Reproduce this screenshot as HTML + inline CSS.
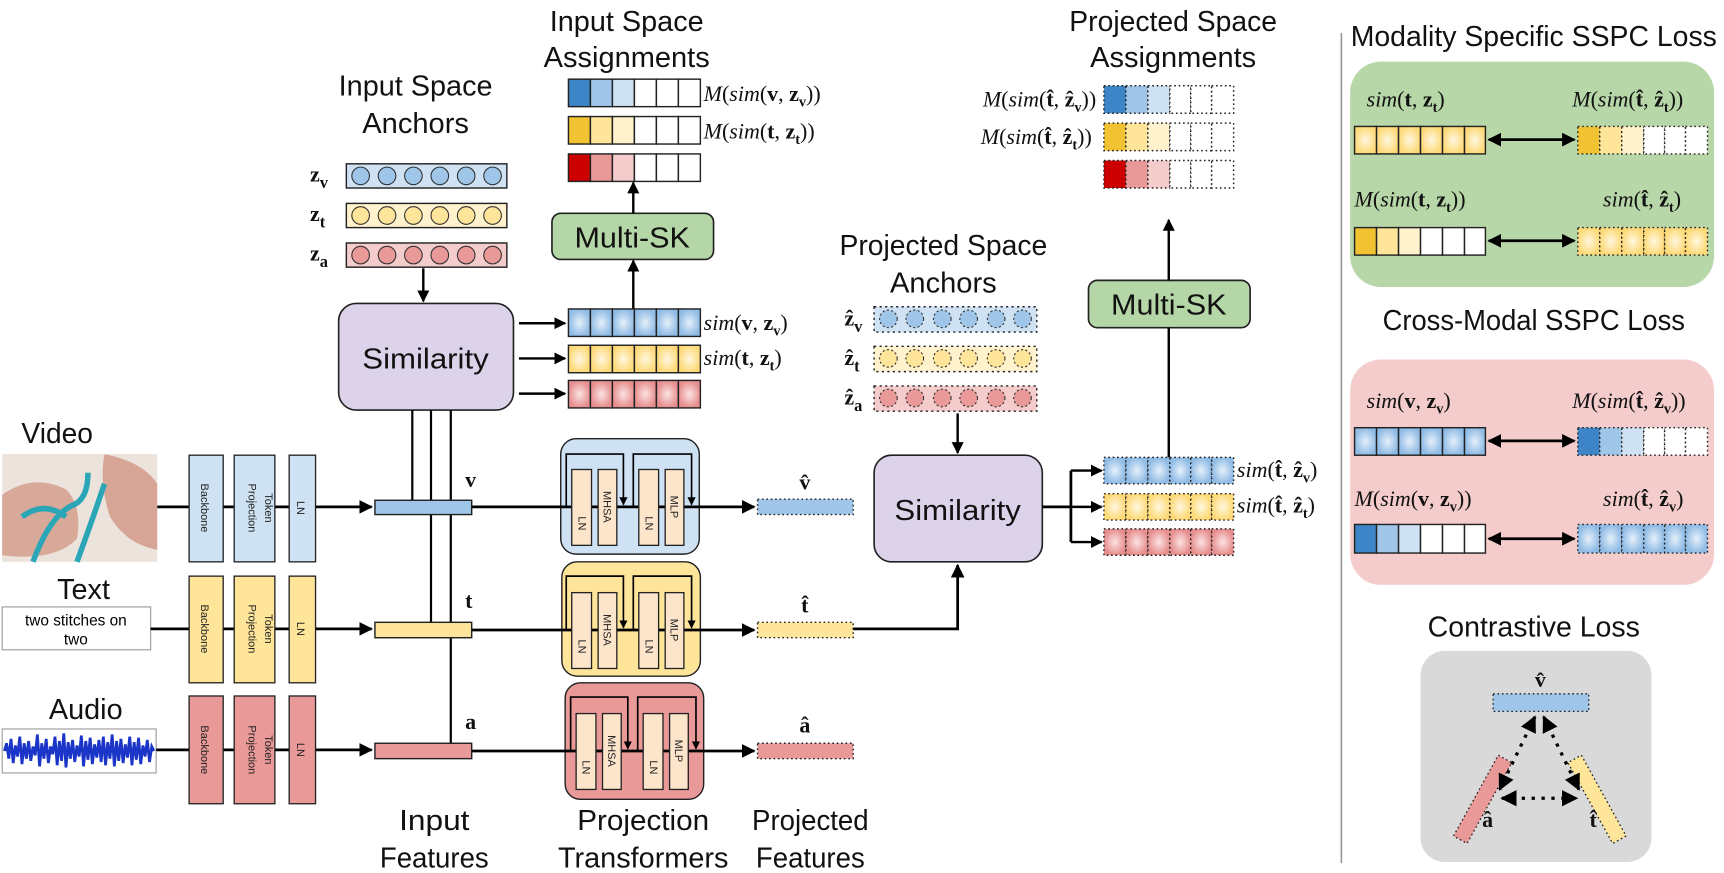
<!DOCTYPE html>
<html><head><meta charset="utf-8"><style>
html,body{margin:0;padding:0;background:#fff}
svg{display:block}
.t{font-family:"Liberation Sans Narrow","Liberation Sans",sans-serif;fill:#111}
.m{font-family:"Liberation Serif",serif;fill:#111;font-size:20px}
.i{font-style:italic}
.b{font-weight:bold}
.s{font-family:"Liberation Sans",sans-serif;font-size:10px;fill:#222}
</style></head><body>
<svg width="1724" height="873" viewBox="0 0 1568 794" preserveAspectRatio="none" xmlns="http://www.w3.org/2000/svg">
<defs>
<marker id="ar" viewBox="0 0 10 10" refX="9" refY="5" markerWidth="5" markerHeight="5" orient="auto-start-reverse"><path d="M0,0L10,5L0,10z" fill="#000"/></marker>
<radialGradient id="gb"><stop offset="0" stop-color="#e6f0fa"/><stop offset="1" stop-color="#8fbbe5"/></radialGradient>
<radialGradient id="gy"><stop offset="0" stop-color="#fff8e0"/><stop offset="1" stop-color="#fdd978"/></radialGradient>
<radialGradient id="gr"><stop offset="0" stop-color="#fbe3e3"/><stop offset="1" stop-color="#e78e8e"/></radialGradient>
</defs>

<!-- divider -->
<line x1="1220" y1="30" x2="1220" y2="785" stroke="#999" stroke-width="1.5"/>

<!-- titles -->
<g class="t" font-size="26" text-anchor="middle" lengthAdjust="spacingAndGlyphs">
<text x="378" y="87" textLength="140" lengthAdjust="spacingAndGlyphs">Input Space</text><text x="378" y="121" textLength="97" lengthAdjust="spacingAndGlyphs">Anchors</text>
<text x="570" y="28" textLength="140" lengthAdjust="spacingAndGlyphs">Input Space</text><text x="570" y="61" textLength="151" lengthAdjust="spacingAndGlyphs">Assignments</text>
<text x="1067" y="28" textLength="189" lengthAdjust="spacingAndGlyphs">Projected Space</text><text x="1067" y="61" textLength="151" lengthAdjust="spacingAndGlyphs">Assignments</text>
<text x="858" y="232" textLength="189" lengthAdjust="spacingAndGlyphs">Projected Space</text><text x="858" y="266" textLength="97" lengthAdjust="spacingAndGlyphs">Anchors</text>
<text x="1395" y="42" textLength="333" lengthAdjust="spacingAndGlyphs">Modality Specific  SSPC Loss</text>
<text x="1395" y="300" textLength="275" lengthAdjust="spacingAndGlyphs">Cross-Modal SSPC Loss</text>
<text x="1395" y="579" textLength="193" lengthAdjust="spacingAndGlyphs">Contrastive Loss</text>
<text x="52" y="403" textLength="65" lengthAdjust="spacingAndGlyphs">Video</text><text x="76" y="545" textLength="48" lengthAdjust="spacingAndGlyphs">Text</text><text x="78" y="654" textLength="67" lengthAdjust="spacingAndGlyphs">Audio</text>
<text x="395" y="755" textLength="64" lengthAdjust="spacingAndGlyphs">Input</text><text x="395" y="789" textLength="99" lengthAdjust="spacingAndGlyphs">Features</text>
<text x="585" y="755" textLength="120" lengthAdjust="spacingAndGlyphs">Projection</text><text x="585" y="789" textLength="155" lengthAdjust="spacingAndGlyphs">Transformers</text>
<text x="737" y="755" textLength="106" lengthAdjust="spacingAndGlyphs">Projected</text><text x="737" y="789" textLength="99" lengthAdjust="spacingAndGlyphs">Features</text>
</g>

<!-- anchors -->
<g stroke="#222" stroke-width="1.3">
<rect x="315" y="149" width="146" height="22" fill="#cfe2f3"/>
<rect x="315" y="185" width="146" height="22" fill="#fff2cc"/>
<rect x="315" y="221" width="146" height="22" fill="#f4cccc"/>
</g>
<g stroke="#333" stroke-width="1">
<g fill="#9fc5e8"><circle cx="328" cy="160" r="8"/><circle cx="352" cy="160" r="8"/><circle cx="376" cy="160" r="8"/><circle cx="400" cy="160" r="8"/><circle cx="424" cy="160" r="8"/><circle cx="448" cy="160" r="8"/></g>
<g fill="#ffe599"><circle cx="328" cy="196" r="8"/><circle cx="352" cy="196" r="8"/><circle cx="376" cy="196" r="8"/><circle cx="400" cy="196" r="8"/><circle cx="424" cy="196" r="8"/><circle cx="448" cy="196" r="8"/></g>
<g fill="#ea9999"><circle cx="328" cy="232" r="8"/><circle cx="352" cy="232" r="8"/><circle cx="376" cy="232" r="8"/><circle cx="400" cy="232" r="8"/><circle cx="424" cy="232" r="8"/><circle cx="448" cy="232" r="8"/></g>
</g>
<g class="m b" font-size="24"><text x="282" y="165">z<tspan font-size="15" dy="6">v</tspan></text><text x="282" y="201">z<tspan font-size="15" dy="6">t</tspan></text><text x="282" y="237">z<tspan font-size="15" dy="6">a</tspan></text></g>

<!-- projected anchors -->
<g stroke="#222" stroke-width="1.3" stroke-dasharray="2,3">
<rect x="795" y="279" width="148" height="23" fill="#cfe2f3"/>
<rect x="795" y="315" width="148" height="23" fill="#fff2cc"/>
<rect x="795" y="351" width="148" height="23" fill="#f4cccc"/>
</g>
<g stroke="#333" stroke-width="1" stroke-dasharray="2,2">
<g fill="#9fc5e8"><circle cx="808" cy="290" r="8"/><circle cx="832" cy="290" r="8"/><circle cx="857" cy="290" r="8"/><circle cx="881" cy="290" r="8"/><circle cx="906" cy="290" r="8"/><circle cx="930" cy="290" r="8"/></g>
<g fill="#ffe599"><circle cx="808" cy="326" r="8"/><circle cx="832" cy="326" r="8"/><circle cx="857" cy="326" r="8"/><circle cx="881" cy="326" r="8"/><circle cx="906" cy="326" r="8"/><circle cx="930" cy="326" r="8"/></g>
<g fill="#ea9999"><circle cx="808" cy="362" r="8"/><circle cx="832" cy="362" r="8"/><circle cx="857" cy="362" r="8"/><circle cx="881" cy="362" r="8"/><circle cx="906" cy="362" r="8"/><circle cx="930" cy="362" r="8"/></g>
</g>
<g class="m b" font-size="24"><text x="768" y="296">ẑ<tspan font-size="15" dy="6">v</tspan></text><text x="768" y="332">ẑ<tspan font-size="15" dy="6">t</tspan></text><text x="768" y="368">ẑ<tspan font-size="15" dy="6">a</tspan></text></g>

<!-- similarity boxes and multi-sk -->
<rect x="308" y="276" width="159" height="97" rx="16" fill="#dcd3ea" stroke="#222" stroke-width="1.5"/>
<text class="t" x="387" y="335" font-size="26" text-anchor="middle" textLength="115" lengthAdjust="spacingAndGlyphs">Similarity</text>
<rect x="795" y="414" width="153" height="97" rx="16" fill="#dcd3ea" stroke="#222" stroke-width="1.5"/>
<text class="t" x="871" y="473" font-size="26" text-anchor="middle" textLength="115" lengthAdjust="spacingAndGlyphs">Similarity</text>
<rect x="502" y="194" width="147" height="42" rx="8" fill="#b5d6a7" stroke="#222" stroke-width="1.5"/>
<text class="t" x="575" y="225" font-size="26" text-anchor="middle" textLength="105" lengthAdjust="spacingAndGlyphs">Multi-SK</text>
<rect x="990" y="255" width="147" height="43" rx="8" fill="#b5d6a7" stroke="#222" stroke-width="1.5"/>
<text class="t" x="1063" y="286" font-size="26" text-anchor="middle" textLength="105" lengthAdjust="spacingAndGlyphs">Multi-SK</text>

<!-- arrows top left -->
<g stroke="#000" stroke-width="2.2" fill="none" marker-end="url(#ar)">
<line x1="385" y1="244" x2="385" y2="274"/>
<line x1="472" y1="294" x2="514" y2="294"/>
<line x1="472" y1="326" x2="514" y2="326"/>
<line x1="472" y1="358" x2="514" y2="358"/>
<line x1="576" y1="281" x2="576" y2="237"/>
<line x1="576" y1="194" x2="576" y2="166"/>
<line x1="871" y1="376" x2="871" y2="412"/>
<line x1="1063" y1="255" x2="1063" y2="200"/>
</g>
<line x1="1063" y1="298" x2="1063" y2="416" stroke="#000" stroke-width="2.2"/>

<!-- sim bars -->
<g stroke="#222" stroke-width="1.3">
<rect x="517" y="281" width="20" height="25" fill="url(#gb)"/><rect x="537" y="281" width="20" height="25" fill="url(#gb)"/><rect x="557" y="281" width="20" height="25" fill="url(#gb)"/><rect x="577" y="281" width="20" height="25" fill="url(#gb)"/><rect x="597" y="281" width="20" height="25" fill="url(#gb)"/><rect x="617" y="281" width="20" height="25" fill="url(#gb)"/>
<rect x="517" y="314" width="20" height="25" fill="url(#gy)"/><rect x="537" y="314" width="20" height="25" fill="url(#gy)"/><rect x="557" y="314" width="20" height="25" fill="url(#gy)"/><rect x="577" y="314" width="20" height="25" fill="url(#gy)"/><rect x="597" y="314" width="20" height="25" fill="url(#gy)"/><rect x="617" y="314" width="20" height="25" fill="url(#gy)"/>
<rect x="517" y="346" width="20" height="25" fill="url(#gr)"/><rect x="537" y="346" width="20" height="25" fill="url(#gr)"/><rect x="557" y="346" width="20" height="25" fill="url(#gr)"/><rect x="577" y="346" width="20" height="25" fill="url(#gr)"/><rect x="597" y="346" width="20" height="25" fill="url(#gr)"/><rect x="617" y="346" width="20" height="25" fill="url(#gr)"/>
</g>

<!-- input assignments -->
<g stroke="#222" stroke-width="1.3">
<rect x="517" y="72" width="20" height="25" fill="#3d85c6"/><rect x="537" y="72" width="20" height="25" fill="#9fc5e8"/><rect x="557" y="72" width="20" height="25" fill="#cfe2f3"/><rect x="577" y="72" width="20" height="25" fill="#fff"/><rect x="597" y="72" width="20" height="25" fill="#fff"/><rect x="617" y="72" width="20" height="25" fill="#fff"/>
<rect x="517" y="106" width="20" height="25" fill="#f1c232"/><rect x="537" y="106" width="20" height="25" fill="#ffe599"/><rect x="557" y="106" width="20" height="25" fill="#fff2cc"/><rect x="577" y="106" width="20" height="25" fill="#fff"/><rect x="597" y="106" width="20" height="25" fill="#fff"/><rect x="617" y="106" width="20" height="25" fill="#fff"/>
<rect x="517" y="140" width="20" height="25" fill="#cc0000"/><rect x="537" y="140" width="20" height="25" fill="#ea9999"/><rect x="557" y="140" width="20" height="25" fill="#f4cccc"/><rect x="577" y="140" width="20" height="25" fill="#fff"/><rect x="597" y="140" width="20" height="25" fill="#fff"/><rect x="617" y="140" width="20" height="25" fill="#fff"/>
</g>
<g class="m">
<text x="640" y="92"><tspan class="i">M</tspan>(<tspan class="i">sim</tspan>(<tspan class="b">v</tspan>, <tspan class="b">z</tspan><tspan class="b" font-size="13" dy="5">v</tspan><tspan dy="-5">))</tspan></text>
<text x="640" y="126"><tspan class="i">M</tspan>(<tspan class="i">sim</tspan>(<tspan class="b">t</tspan>, <tspan class="b">z</tspan><tspan class="b" font-size="13" dy="5">t</tspan><tspan dy="-5">))</tspan></text>
<text x="640" y="300"><tspan class="i">sim</tspan>(<tspan class="b">v</tspan>, <tspan class="b">z</tspan><tspan class="b" font-size="13" dy="5">v</tspan><tspan dy="-5">)</tspan></text>
<text x="640" y="332"><tspan class="i">sim</tspan>(<tspan class="b">t</tspan>, <tspan class="b">z</tspan><tspan class="b" font-size="13" dy="5">t</tspan><tspan dy="-5">)</tspan></text>
</g>

<!-- projected assignments -->
<g stroke="#222" stroke-width="1.3" stroke-dasharray="1.5,2.5">
<rect x="1004" y="78" width="20" height="25" fill="#3d85c6"/><rect x="1024" y="78" width="20" height="25" fill="#9fc5e8"/><rect x="1044" y="78" width="20" height="25" fill="#cfe2f3"/><rect x="1064" y="78" width="19" height="25" fill="#fff"/><rect x="1083" y="78" width="19" height="25" fill="#fff"/><rect x="1102" y="78" width="20" height="25" fill="#fff"/>
<rect x="1004" y="112" width="20" height="25" fill="#f1c232"/><rect x="1024" y="112" width="20" height="25" fill="#ffe599"/><rect x="1044" y="112" width="20" height="25" fill="#fff2cc"/><rect x="1064" y="112" width="19" height="25" fill="#fff"/><rect x="1083" y="112" width="19" height="25" fill="#fff"/><rect x="1102" y="112" width="20" height="25" fill="#fff"/>
<rect x="1004" y="146" width="20" height="25" fill="#cc0000"/><rect x="1024" y="146" width="20" height="25" fill="#ea9999"/><rect x="1044" y="146" width="20" height="25" fill="#f4cccc"/><rect x="1064" y="146" width="19" height="25" fill="#fff"/><rect x="1083" y="146" width="19" height="25" fill="#fff"/><rect x="1102" y="146" width="20" height="25" fill="#fff"/>
</g>
<g class="m" text-anchor="end">
<text x="997" y="97"><tspan class="i">M</tspan>(<tspan class="i">sim</tspan>(<tspan class="b">t̂</tspan>, <tspan class="b">ẑ</tspan><tspan class="b" font-size="13" dy="5">v</tspan><tspan dy="-5">))</tspan></text>
<text x="993" y="131"><tspan class="i">M</tspan>(<tspan class="i">sim</tspan>(<tspan class="b">t̂</tspan>, <tspan class="b">ẑ</tspan><tspan class="b" font-size="13" dy="5">t</tspan><tspan dy="-5">))</tspan></text>
</g>

<!-- projected sim bars -->
<g stroke="#222" stroke-width="1.3" stroke-dasharray="1.5,2.5">
<rect x="1004" y="416" width="20" height="24" fill="url(#gb)"/><rect x="1024" y="416" width="20" height="24" fill="url(#gb)"/><rect x="1044" y="416" width="20" height="24" fill="url(#gb)"/><rect x="1064" y="416" width="19" height="24" fill="url(#gb)"/><rect x="1083" y="416" width="19" height="24" fill="url(#gb)"/><rect x="1102" y="416" width="20" height="24" fill="url(#gb)"/>
<rect x="1004" y="449" width="20" height="24" fill="url(#gy)"/><rect x="1024" y="449" width="20" height="24" fill="url(#gy)"/><rect x="1044" y="449" width="20" height="24" fill="url(#gy)"/><rect x="1064" y="449" width="19" height="24" fill="url(#gy)"/><rect x="1083" y="449" width="19" height="24" fill="url(#gy)"/><rect x="1102" y="449" width="20" height="24" fill="url(#gy)"/>
<rect x="1004" y="481" width="20" height="24" fill="url(#gr)"/><rect x="1024" y="481" width="20" height="24" fill="url(#gr)"/><rect x="1044" y="481" width="20" height="24" fill="url(#gr)"/><rect x="1064" y="481" width="19" height="24" fill="url(#gr)"/><rect x="1083" y="481" width="19" height="24" fill="url(#gr)"/><rect x="1102" y="481" width="20" height="24" fill="url(#gr)"/>
</g>
<g class="m">
<text x="1125" y="434"><tspan class="i">sim</tspan>(<tspan class="b">t̂</tspan>, <tspan class="b">ẑ</tspan><tspan class="b" font-size="13" dy="5">v</tspan><tspan dy="-5">)</tspan></text>
<text x="1125" y="466"><tspan class="i">sim</tspan>(<tspan class="b">t̂</tspan>, <tspan class="b">ẑ</tspan><tspan class="b" font-size="13" dy="5">t</tspan><tspan dy="-5">)</tspan></text>
</g>
<g stroke="#000" stroke-width="2.5" fill="none">
<line x1="948" y1="461" x2="974" y2="461"/>
<line x1="974" y1="428" x2="974" y2="493"/>
</g>
<g stroke="#000" stroke-width="2.2" marker-end="url(#ar)">
<line x1="974" y1="428" x2="1002" y2="428"/>
<line x1="974" y1="461" x2="1002" y2="461"/>
<line x1="974" y1="493" x2="1002" y2="493"/>
</g>

<!-- vertical connectors from similarity -->
<g stroke="#000" stroke-width="2">
<line x1="375" y1="373" x2="375" y2="456"/>
<line x1="392" y1="373" x2="392" y2="568"/>
<line x1="410" y1="373" x2="410" y2="677"/>
</g>

<!-- left inputs -->
<g>
<rect x="2" y="413" width="141" height="98" fill="#ece4dc"/>
<path d="M2,450 Q30,430 60,445 Q75,460 70,490 Q50,511 2,505Z" fill="#d8a898"/>
<path d="M95,413 Q130,420 143,440 L143,500 Q115,495 100,470 Q90,440 95,413Z" fill="#d6a595"/>
<path d="M30,511 Q45,470 65,460 Q80,455 80,430 M70,511 Q85,470 95,440 M20,470 Q40,455 60,470" stroke="#2aa6b6" stroke-width="5" fill="none"/>
</g>
<rect x="2" y="552" width="135" height="39" fill="#fff" stroke="#999"/>
<text x="69" y="569" font-family="Liberation Sans Narrow,Liberation Sans,sans-serif" font-size="14" text-anchor="middle">two stitches on</text>
<text x="69" y="586" font-family="Liberation Sans Narrow,Liberation Sans,sans-serif" font-size="14" text-anchor="middle">two</text>
<rect x="2" y="663" width="140" height="40" fill="#fff" stroke="#999"/>
<path d="M4,683 L6,676 L8,690 L10,672 L12,694 L14,678 L16,688 L18,670 L20,695 L22,676 L24,690 L26,674 L28,692 L30,679 L32,687 L34,668 L36,697 L38,676 L40,690 L42,672 L44,694 L46,679 L48,686 L50,670 L52,696 L54,674 L56,692 L58,667 L60,698 L62,675 L64,690 L66,673 L68,693 L70,678 L72,688 L74,669 L76,697 L78,674 L80,691 L82,671 L84,695 L86,677 L88,689 L90,673 L92,693 L94,670 L96,696 L98,675 L100,690 L102,668 L104,697 L106,674 L108,692 L110,672 L112,694 L114,677 L116,689 L118,670 L120,696 L122,675 L124,691 L126,671 L128,695 L130,678 L132,688 L134,673 L136,693 L138,679 L140,683" stroke="#1a35c8" stroke-width="2.5" fill="#1a35c8"/>

<!-- main lines -->
<g stroke="#000" stroke-width="2.5" marker-end="url(#ar)">
<line x1="143" y1="461" x2="338" y2="461"/>
<line x1="137" y1="572" x2="338" y2="572"/>
<line x1="142" y1="682" x2="338" y2="682"/>
</g>
<g stroke="#222" stroke-width="1.2">
<rect x="172" y="414" width="31" height="97" fill="#cfe2f3"/><rect x="213" y="414" width="37" height="97" fill="#cfe2f3"/><rect x="263" y="414" width="24" height="97" fill="#cfe2f3"/>
<rect x="172" y="524" width="31" height="97" fill="#ffe599"/><rect x="213" y="524" width="37" height="97" fill="#ffe599"/><rect x="263" y="524" width="24" height="97" fill="#ffe599"/>
<rect x="172" y="633" width="31" height="98" fill="#ea9999"/><rect x="213" y="633" width="37" height="98" fill="#ea9999"/><rect x="263" y="633" width="24" height="98" fill="#ea9999"/>
</g>
<g class="s" font-size="13" text-anchor="middle">
<text transform="translate(183,462) rotate(90)">Backbone</text><text transform="translate(241,462) rotate(90)">Token</text><text transform="translate(226,462) rotate(90)">Projection</text><text transform="translate(270,462) rotate(90)">LN</text>
<text transform="translate(183,572) rotate(90)">Backbone</text><text transform="translate(241,572) rotate(90)">Token</text><text transform="translate(226,572) rotate(90)">Projection</text><text transform="translate(270,572) rotate(90)">LN</text>
<text transform="translate(183,682) rotate(90)">Backbone</text><text transform="translate(241,682) rotate(90)">Token</text><text transform="translate(226,682) rotate(90)">Projection</text><text transform="translate(270,682) rotate(90)">LN</text>
</g>

<!-- transformer boxes -->
<rect x="510" y="399" width="126" height="105" rx="14" fill="#cfe2f3" stroke="#222" stroke-width="1.3"/>
<rect x="511" y="511" width="126" height="104" rx="14" fill="#ffe599" stroke="#222" stroke-width="1.3"/>
<rect x="514" y="621" width="126" height="106" rx="14" fill="#ea9999" stroke="#222" stroke-width="1.3"/>

<g stroke="#222" stroke-width="1.3">
<rect x="341" y="455" width="88" height="13" fill="#9fc5e8"/>
<rect x="341" y="566" width="88" height="14" fill="#ffe599"/>
<rect x="341" y="676" width="88" height="14" fill="#ea9999"/>
</g>
<g class="m b" font-size="22"><text x="423" y="443">v</text><text x="423" y="553">t</text><text x="423" y="663">a</text></g>

<g stroke="#000" stroke-width="2.5" marker-end="url(#ar)">
<line x1="429" y1="461" x2="686" y2="461"/>
<line x1="429" y1="573" x2="686" y2="573"/>
<line x1="429" y1="683" x2="686" y2="683"/>
</g>
<g stroke="#000" stroke-width="1.5" fill="none" marker-end="url(#ar)">
<path d="M515,461V413H567V459"/><path d="M576,461V413H629V459"/>
<path d="M515,573V524H567V571"/><path d="M576,573V524H629V571"/>
<path d="M519,683V634H571V681"/><path d="M580,683V634H633V681"/>
</g>
<g stroke="#222" stroke-width="1.2" fill="#fde5cc">
<rect x="520" y="427" width="18" height="69"/><rect x="544" y="427" width="17" height="69"/><rect x="581" y="427" width="18" height="69"/><rect x="605" y="427" width="17" height="69"/>
<rect x="520" y="539" width="18" height="69"/><rect x="544" y="539" width="17" height="69"/><rect x="581" y="539" width="18" height="69"/><rect x="605" y="539" width="17" height="69"/>
<rect x="524" y="649" width="18" height="69"/><rect x="548" y="649" width="17" height="69"/><rect x="585" y="649" width="18" height="69"/><rect x="609" y="649" width="17" height="69"/>
</g>
<g class="s" text-anchor="middle" font-size="11">
<text transform="translate(526,476) rotate(90)">LN</text><text transform="translate(549,461) rotate(90)">MHSA</text><text transform="translate(587,476) rotate(90)">LN</text><text transform="translate(610,461) rotate(90)">MLP</text>
<text transform="translate(526,588) rotate(90)">LN</text><text transform="translate(549,573) rotate(90)">MHSA</text><text transform="translate(587,588) rotate(90)">LN</text><text transform="translate(610,573) rotate(90)">MLP</text>
<text transform="translate(530,698) rotate(90)">LN</text><text transform="translate(553,683) rotate(90)">MHSA</text><text transform="translate(591,698) rotate(90)">LN</text><text transform="translate(614,683) rotate(90)">MLP</text>
</g>

<g stroke="#222" stroke-width="1.3" stroke-dasharray="1.5,2.5">
<rect x="689" y="454" width="87" height="14" fill="#9fc5e8"/>
<rect x="689" y="566" width="87" height="14" fill="#ffe599"/>
<rect x="689" y="676" width="87" height="14" fill="#ea9999"/>
</g>
<g class="m b" font-size="22" text-anchor="middle"><text x="732" y="445">v̂</text><text x="732" y="557">t̂</text><text x="732" y="666">â</text></g>
<path d="M776,572H871V514" stroke="#000" stroke-width="2.5" fill="none" marker-end="url(#ar)"/>

<!-- modality specific box -->
<rect x="1228" y="56" width="331" height="205" rx="28" fill="#b7d7a8"/>
<g class="m">
<text x="1243" y="97"><tspan class="i">sim</tspan>(<tspan class="b">t</tspan>, <tspan class="b">z</tspan><tspan class="b" font-size="13" dy="5">t</tspan><tspan dy="-5">)</tspan></text>
<text x="1430" y="97"><tspan class="i">M</tspan>(<tspan class="i">sim</tspan>(<tspan class="b">t̂</tspan>, <tspan class="b">ẑ</tspan><tspan class="b" font-size="13" dy="5">t</tspan><tspan dy="-5">))</tspan></text>
<text x="1232" y="188"><tspan class="i">M</tspan>(<tspan class="i">sim</tspan>(<tspan class="b">t</tspan>, <tspan class="b">z</tspan><tspan class="b" font-size="13" dy="5">t</tspan><tspan dy="-5">))</tspan></text>
<text x="1458" y="188"><tspan class="i">sim</tspan>(<tspan class="b">t̂</tspan>, <tspan class="b">ẑ</tspan><tspan class="b" font-size="13" dy="5">t</tspan><tspan dy="-5">)</tspan></text>
</g>
<g stroke="#222" stroke-width="1.3">
<rect x="1232" y="115" width="20" height="25" fill="url(#gy)"/><rect x="1252" y="115" width="20" height="25" fill="url(#gy)"/><rect x="1272" y="115" width="20" height="25" fill="url(#gy)"/><rect x="1292" y="115" width="20" height="25" fill="url(#gy)"/><rect x="1312" y="115" width="20" height="25" fill="url(#gy)"/><rect x="1332" y="115" width="19" height="25" fill="url(#gy)"/>
<rect x="1232" y="207" width="20" height="25" fill="#f1c232"/><rect x="1252" y="207" width="20" height="25" fill="#ffe599"/><rect x="1272" y="207" width="20" height="25" fill="#fff2cc"/><rect x="1292" y="207" width="20" height="25" fill="#fff"/><rect x="1312" y="207" width="20" height="25" fill="#fff"/><rect x="1332" y="207" width="19" height="25" fill="#fff"/>
</g>
<g stroke="#222" stroke-width="1.3" stroke-dasharray="1.5,2.5">
<rect x="1435" y="115" width="20" height="25" fill="#f1c232"/><rect x="1455" y="115" width="20" height="25" fill="#ffe599"/><rect x="1475" y="115" width="20" height="25" fill="#fff2cc"/><rect x="1495" y="115" width="19" height="25" fill="#fff"/><rect x="1514" y="115" width="19" height="25" fill="#fff"/><rect x="1533" y="115" width="20" height="25" fill="#fff"/>
<rect x="1435" y="207" width="20" height="25" fill="url(#gy)"/><rect x="1455" y="207" width="20" height="25" fill="url(#gy)"/><rect x="1475" y="207" width="20" height="25" fill="url(#gy)"/><rect x="1495" y="207" width="19" height="25" fill="url(#gy)"/><rect x="1514" y="207" width="19" height="25" fill="url(#gy)"/><rect x="1533" y="207" width="20" height="25" fill="url(#gy)"/>
</g>

<!-- cross modal box -->
<rect x="1228" y="327" width="331" height="205" rx="28" fill="#f4cccc"/>
<g class="m">
<text x="1243" y="371"><tspan class="i">sim</tspan>(<tspan class="b">v</tspan>, <tspan class="b">z</tspan><tspan class="b" font-size="13" dy="5">v</tspan><tspan dy="-5">)</tspan></text>
<text x="1430" y="371"><tspan class="i">M</tspan>(<tspan class="i">sim</tspan>(<tspan class="b">t̂</tspan>, <tspan class="b">ẑ</tspan><tspan class="b" font-size="13" dy="5">v</tspan><tspan dy="-5">))</tspan></text>
<text x="1232" y="460"><tspan class="i">M</tspan>(<tspan class="i">sim</tspan>(<tspan class="b">v</tspan>, <tspan class="b">z</tspan><tspan class="b" font-size="13" dy="5">v</tspan><tspan dy="-5">))</tspan></text>
<text x="1458" y="460"><tspan class="i">sim</tspan>(<tspan class="b">t̂</tspan>, <tspan class="b">ẑ</tspan><tspan class="b" font-size="13" dy="5">v</tspan><tspan dy="-5">)</tspan></text>
</g>
<g stroke="#222" stroke-width="1.3">
<rect x="1232" y="389" width="20" height="25" fill="url(#gb)"/><rect x="1252" y="389" width="20" height="25" fill="url(#gb)"/><rect x="1272" y="389" width="20" height="25" fill="url(#gb)"/><rect x="1292" y="389" width="20" height="25" fill="url(#gb)"/><rect x="1312" y="389" width="20" height="25" fill="url(#gb)"/><rect x="1332" y="389" width="19" height="25" fill="url(#gb)"/>
<rect x="1232" y="477" width="20" height="26" fill="#3d85c6"/><rect x="1252" y="477" width="20" height="26" fill="#9fc5e8"/><rect x="1272" y="477" width="20" height="26" fill="#cfe2f3"/><rect x="1292" y="477" width="20" height="26" fill="#fff"/><rect x="1312" y="477" width="20" height="26" fill="#fff"/><rect x="1332" y="477" width="19" height="26" fill="#fff"/>
</g>
<g stroke="#222" stroke-width="1.3" stroke-dasharray="1.5,2.5">
<rect x="1435" y="389" width="20" height="25" fill="#3d85c6"/><rect x="1455" y="389" width="20" height="25" fill="#9fc5e8"/><rect x="1475" y="389" width="20" height="25" fill="#cfe2f3"/><rect x="1495" y="389" width="19" height="25" fill="#fff"/><rect x="1514" y="389" width="19" height="25" fill="#fff"/><rect x="1533" y="389" width="20" height="25" fill="#fff"/>
<rect x="1435" y="477" width="20" height="26" fill="url(#gb)"/><rect x="1455" y="477" width="20" height="26" fill="url(#gb)"/><rect x="1475" y="477" width="20" height="26" fill="url(#gb)"/><rect x="1495" y="477" width="19" height="26" fill="url(#gb)"/><rect x="1514" y="477" width="19" height="26" fill="url(#gb)"/><rect x="1533" y="477" width="20" height="26" fill="url(#gb)"/>
</g>
<g stroke="#000" stroke-width="2.5" marker-start="url(#ar)" marker-end="url(#ar)">
<line x1="1354" y1="127" x2="1432" y2="127"/>
<line x1="1354" y1="219" x2="1432" y2="219"/>
<line x1="1354" y1="401" x2="1432" y2="401"/>
<line x1="1354" y1="490" x2="1432" y2="490"/>
</g>

<!-- contrastive -->
<rect x="1292" y="592" width="210" height="192" rx="22" fill="#d9d9d9"/>
<rect x="1358" y="631" width="87" height="16" fill="#9fc5e8" stroke="#222" stroke-width="1.2" stroke-dasharray="1.5,2.5"/>
<g transform="translate(1348.5,727) rotate(-61)"><rect x="-42" y="-7" width="84" height="14" fill="#ea9999" stroke="#222" stroke-width="1.2" stroke-dasharray="1.5,2.5"/></g>
<g transform="translate(1452.5,727) rotate(61)"><rect x="-42" y="-7" width="84" height="14" fill="#ffe599" stroke="#222" stroke-width="1.2" stroke-dasharray="1.5,2.5"/></g>
<g stroke="#000" stroke-width="3" stroke-dasharray="3,6" marker-start="url(#ar)" marker-end="url(#ar)" fill="none">
<line x1="1396" y1="652" x2="1364" y2="718"/>
<line x1="1404" y1="652" x2="1436" y2="718"/>
<line x1="1366" y1="726" x2="1434" y2="726"/>
</g>
<g class="m b" font-size="22" text-anchor="middle"><text x="1401" y="625">v̂</text><text x="1353" y="752">â</text><text x="1449" y="752">t̂</text></g>
</svg>
</body></html>
